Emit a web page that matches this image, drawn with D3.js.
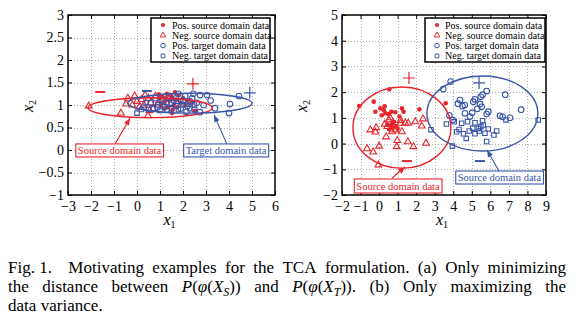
<!DOCTYPE html>
<html>
<head>
<meta charset="utf-8">
<title>TCA motivating examples</title>
<style>
body { margin: 0; background: #fff; }
text { font-family: "Liberation Serif", "Times New Roman", serif; fill: #000; }
.grid line { stroke: #b0b0b0; stroke-width: 1; stroke-dasharray: 1,2; shape-rendering: crispEdges; }
.axis path { display: none; }
.axis line { stroke: #000; }
.axis text { font-size: 14px; font-family: "Liberation Serif", serif; }
.legend text { font-size: 10px; }
.note text { font-size: 10.5px; }
.cap { font-size: 17px; }
</style>
</head>
<body>
<script src="https://cdn.jsdelivr.net/npm/d3@7"></script>
<script>
// ---- panel (a): only minimizing the distance between the two domains ----
var aXTicks = [-3, -2, -1, 0, 1, 2, 3, 4, 5, 6];
var aYTicks = [-1, -0.5, 0, 0.5, 1, 1.5, 2, 2.5, 3];
var aPosSource = [[1.0,1.15],[1.1,1.2],[1.2,1.08],[1.3,1.25],[1.4,1.1],[1.5,1.18],[1.6,1.0],[1.7,1.12],
  [1.8,1.22],[1.9,1.05],[2.0,1.15],[1.35,0.95],[1.55,0.9],[1.2,0.92],[1.45,1.22],[2.1,1.0],[2.2,1.1],
  [1.05,1.02],[1.65,1.28],[2.4,1.05],[2.52,0.87],[1.52,0.82],[1.75,0.95],[0.95,1.24],[1.25,1.15]];
var aNegSource = [[-2.1,0.98],[-0.7,0.82],[-0.48,1.02],[-0.4,1.15],[0.48,0.76],[-0.2,1.0],[0.0,1.08],
  [0.2,1.12],[0.3,1.0],[0.5,1.15],[0.6,1.05],[0.8,1.2],[0.9,1.02],[0.1,0.95],[0.7,0.92],[1.0,1.1],
  [-0.1,1.2],[0.35,1.22],[1.2,1.0],[0.55,0.88],[1.4,1.15]];
var aPosTarget = [[0.6,1.05],[0.9,0.95],[1.1,1.1],[1.3,0.9],[1.5,1.05],[1.7,1.15],[1.9,0.92],[2.0,1.1],
  [2.1,1.2],[2.2,0.98],[2.3,1.08],[2.4,1.15],[2.5,0.9],[2.6,1.05],[2.74,1.22],[2.74,0.84],[3.04,1.22],
  [3.39,0.93],[4.0,0.82],[4.04,1.02],[4.43,1.2],[2.9,1.0],[1.8,1.25],[2.15,0.85],[3.2,1.1],[1.4,1.2],
  [0.8,1.15],[2.45,1.25]];
var aNegTarget = [[0.0,0.82],[0.3,0.95],[0.5,0.9],[0.7,0.92],[0.9,1.0],[1.0,0.88],[1.2,0.96],[1.3,1.05],
  [1.5,0.92],[1.6,1.1],[1.7,0.98],[1.8,0.9],[2.0,1.0],[2.2,1.05],[2.3,0.92],[0.4,1.05],[1.1,1.12],
  [1.9,1.08],[2.5,1.0],[0.2,0.9]];
// ellipses: [cx, cy, rx, ry]
var aSourceEllipse = [0.57, 0.94, 2.7, 0.22];
var aTargetEllipse = [2.3, 1.04, 2.7, 0.22];
// class means: [x, y]
var aSourcePlus = [2.43, 1.47], aSourceMinus = [-1.6, 1.29];
var aTargetPlus = [4.9, 1.27], aTargetMinus = [0.43, 1.31];

// ---- panel (b): only maximizing the data variance ----
var bXTicks = [-2, -1, 0, 1, 2, 3, 4, 5, 6, 7, 8, 9];
var bYTicks = [-2, -1, 0, 1, 2, 3, 4, 5];
var bPosSource = [[-1.07,1.46],[-0.29,1.63],[0.55,2.11],[0.07,1.37],[-0.2,1.24],[0.25,1.3],[0.34,1.18],
  [0.66,1.24],[0.87,1.22],[0.52,1.15],[1.23,1.37],[1.32,1.24],[2.17,1.33],[3.59,1.57],[0.6,0.7],
  [0.75,0.62],[0.9,0.68],[0.7,0.78],[0.45,0.72],[1.0,0.58],[0.55,0.55],[0.8,0.85],[1.1,1.05],
  [0.3,1.45],[0.15,1.1]];
var bNegSource = [[-0.65,-0.2],[-0.32,-0.33],[0.0,-0.1],[-0.04,-0.83],[-0.47,0.53],[-0.2,0.45],
  [-0.16,0.62],[0.38,0.26],[0.52,0.92],[0.44,0.66],[0.7,0.46],[0.87,0.53],[0.98,0.12],[0.95,-0.12],
  [1.16,0.79],[1.23,0.46],[1.15,0.9],[1.41,0.8],[1.55,0.07],[1.57,0.79],[1.85,-0.12],[1.95,0.85],
  [2.3,0.68],[2.37,0.96],[2.53,0.01],[0.6,1.0],[0.3,0.75]];
var bPosTarget = [[3.46,2.12],[3.86,2.41],[4.36,1.69],[4.5,1.46],[4.62,1.5],[5.17,1.72],[5.08,1.63],
  [5.48,1.82],[5.58,1.9],[5.8,2.04],[5.44,1.54],[5.53,1.43],[5.02,1.2],[5.89,1.24],[5.8,1.15],
  [6.8,1.9],[7.66,1.32],[6.52,1.08],[6.66,1.04],[7.06,1.0],[4.63,1.18],[3.79,1.1],[3.97,0.92],
  [4.25,1.55],[4.9,1.05],[5.3,1.35]];
var bNegTarget = [[2.8,0.54],[3.63,0.76],[4.05,0.85],[4.45,0.79],[4.31,0.55],[4.18,0.46],[4.55,0.38],
  [4.77,0.85],[4.86,0.49],[5.17,0.81],[5.17,0.38],[5.4,0.49],[5.49,0.66],[5.58,0.89],[5.62,0.72],
  [5.35,0.59],[5.71,0.4],[5.89,0.57],[5.8,0.08],[6.19,0.33],[6.34,0.49],[6.84,0.92],[8.58,0.92],
  [3.95,-0.1],[5.05,0.6],[4.7,0.2]];
var bSourceEllipse = [1.23, 0.62, 2.64, 1.58];
var bTargetEllipse = [5.57, 1.17, 2.99, 1.46];
var bSourcePlus = [1.61, 2.55], bSourceMinus = [1.5, -0.68];
var bTargetPlus = [5.39, 2.36], bTargetMinus = [5.44, -0.68];

var legendLabels = ["Pos. source domain data", "Neg. source domain data",
                    "Pos. target domain data", "Neg. target domain data"];

var RED = "#e8252d", BLUE = "#3a56a8";

var svg = d3.select("body").append("svg")
    .attr("width", 584)
    .attr("height", 322);

var defs = svg.append("defs");
[["red", RED], ["blue", BLUE]].forEach(function(c) {
    defs.append("marker")
        .attr("id", "head-" + c[0])
        .attr("viewBox", "0 0 10 10")
        .attr("refX", 10).attr("refY", 5)
        .attr("markerWidth", 8).attr("markerHeight", 7)
        .attr("markerUnits", "userSpaceOnUse")
        .attr("orient", "auto")
      .append("path")
        .attr("d", "M0,1L10,5L0,9Z")
        .attr("fill", c[1]);
});

function fmt(d) { return String(d).replace("-", "\u2212"); }

var triangle = d3.symbol().type(d3.symbolTriangle).size(20);
var square = d3.symbol().type(d3.symbolSquare).size(20);

function drawPanel(p) {
    var x = d3.scaleLinear().domain(d3.extent(p.xTicks)).range([p.left, p.right]);
    var y = d3.scaleLinear().domain(d3.extent(p.yTicks)).range([p.bottom, p.top]);
    var g = svg.append("g");

    var grid = g.append("g").attr("class", "grid");
    grid.selectAll("line.v").data(p.xTicks.slice(1, -1)).join("line")
        .attr("class", "v")
        .attr("x1", function(d) { return Math.round(x(d)) + 0.5; })
        .attr("x2", function(d) { return Math.round(x(d)) + 0.5; })
        .attr("y1", p.top).attr("y2", p.bottom);
    grid.selectAll("line.h").data(p.yTicks.slice(1, -1)).join("line")
        .attr("class", "h")
        .attr("x1", p.left).attr("x2", p.right)
        .attr("y1", function(d) { return Math.round(y(d)) + 0.5; })
        .attr("y2", function(d) { return Math.round(y(d)) + 0.5; });

    // scatter series
    g.append("g").selectAll("circle").data(p.posSource).join("circle")
        .attr("cx", function(d) { return x(d[0]); })
        .attr("cy", function(d) { return y(d[1]); })
        .attr("r", 2.3)
        .attr("fill", RED);
    g.append("g").selectAll("path").data(p.negSource).join("path")
        .attr("d", triangle)
        .attr("transform", function(d) { return "translate(" + x(d[0]) + "," + y(d[1]) + ")"; })
        .attr("fill", "none").attr("stroke", RED).attr("stroke-width", 1.1);
    g.append("g").selectAll("circle").data(p.posTarget).join("circle")
        .attr("cx", function(d) { return x(d[0]); })
        .attr("cy", function(d) { return y(d[1]); })
        .attr("r", 2.8)
        .attr("fill", "none").attr("stroke", BLUE).attr("stroke-width", 1.1);
    g.append("g").selectAll("path").data(p.negTarget).join("path")
        .attr("d", square)
        .attr("transform", function(d) { return "translate(" + x(d[0]) + "," + y(d[1]) + ")"; })
        .attr("fill", "none").attr("stroke", BLUE).attr("stroke-width", 1.1);

    // domain ellipses
    [[p.sourceEllipse, RED], [p.targetEllipse, BLUE]].forEach(function(e) {
        var c = e[0];
        g.append("ellipse")
            .attr("cx", x(c[0])).attr("cy", y(c[1]))
            .attr("rx", x(c[0] + c[2]) - x(c[0]))
            .attr("ry", y(c[1]) - y(c[1] + c[3]))
            .attr("fill", "none").attr("stroke", e[1]).attr("stroke-width", 1.4);
    });

    // class means
    [[p.sourcePlus, RED], [p.targetPlus, BLUE]].forEach(function(m) {
        var cx = x(m[0][0]), cy = y(m[0][1]);
        g.append("path")
            .attr("d", "M" + (cx - 6) + "," + cy + "H" + (cx + 6) + "M" + cx + "," + (cy - 6) + "V" + (cy + 6))
            .attr("stroke", m[1]).attr("stroke-width", 1.2).attr("fill", "none");
    });
    [[p.sourceMinus, RED], [p.targetMinus, BLUE]].forEach(function(m) {
        var cx = x(m[0][0]), cy = y(m[0][1]);
        g.append("path")
            .attr("d", "M" + (cx - 5) + "," + cy + "H" + (cx + 5))
            .attr("stroke", m[1]).attr("stroke-width", 2).attr("fill", "none");
    });

    // frame and axes
    g.append("rect")
        .attr("x", p.left).attr("y", p.top)
        .attr("width", p.right - p.left).attr("height", p.bottom - p.top)
        .attr("fill", "none").attr("stroke", "#000").attr("stroke-width", 1.5);
    g.append("g").attr("class", "axis")
        .attr("transform", "translate(0," + p.bottom + ")")
        .call(d3.axisBottom(x).tickValues(p.xTicks).tickFormat(fmt)
            .tickSizeInner(-4).tickSizeOuter(0).tickPadding(6));
    g.append("g").attr("class", "axis")
        .attr("transform", "translate(" + p.left + ",0)")
        .call(d3.axisLeft(y).tickValues(p.yTicks).tickFormat(fmt)
            .tickSizeInner(-4).tickSizeOuter(0).tickPadding(4));
    g.append("g").attr("class", "axis")
        .attr("transform", "translate(0," + p.top + ")")
        .call(d3.axisTop(x).tickValues(p.xTicks).tickFormat("").tickSizeInner(-4).tickSizeOuter(0));
    g.append("g").attr("class", "axis")
        .attr("transform", "translate(" + p.right + ",0)")
        .call(d3.axisRight(y).tickValues(p.yTicks).tickFormat("").tickSizeInner(-4).tickSizeOuter(0));

    // axis titles
    var xl = g.append("text")
        .attr("x", (p.left + p.right) / 2 - 2).attr("y", p.bottom + 30)
        .attr("text-anchor", "middle").style("font-size", "16px");
    xl.append("tspan").style("font-style", "italic").text("x");
    xl.append("tspan").attr("dy", 3).style("font-size", "10px").text("1");
    var yl = g.append("text")
        .attr("transform", "translate(" + (p.left - 35) + "," + ((p.top + p.bottom) / 2 + 1) + ") rotate(-90)")
        .attr("text-anchor", "middle").style("font-size", "16px");
    yl.append("tspan").style("font-style", "italic").text("x");
    yl.append("tspan").attr("dy", 3).style("font-size", "10px").text("2");

    // legend
    var lg = g.append("g").attr("class", "legend")
        .attr("transform", "translate(" + p.legend[0] + "," + p.legend[1] + ")");
    lg.append("rect")
        .attr("width", p.legend[2]).attr("height", 44)
        .attr("fill", "#fff").attr("stroke", "#000").attr("stroke-width", 1.5);
    legendLabels.forEach(function(label, i) {
        var ly = 7 + i * 10.3;
        var mx = 12;
        if (i === 0) lg.append("circle").attr("cx", mx).attr("cy", ly).attr("r", 2).attr("fill", RED);
        if (i === 1) lg.append("path").attr("d", d3.symbol().type(d3.symbolTriangle).size(14))
            .attr("transform", "translate(" + mx + "," + ly + ")")
            .attr("fill", "none").attr("stroke", RED);
        if (i === 2) lg.append("circle").attr("cx", mx).attr("cy", ly).attr("r", 2.3)
            .attr("fill", "none").attr("stroke", BLUE);
        if (i === 3) lg.append("path").attr("d", d3.symbol().type(d3.symbolSquare).size(14))
            .attr("transform", "translate(" + mx + "," + ly + ")")
            .attr("fill", "none").attr("stroke", BLUE);
        lg.append("text").attr("x", p.legend[3]).attr("y", ly + 3.5).text(label);
    });

    // callout boxes with arrows
    p.notes.forEach(function(n) {
        var ng = g.append("g").attr("class", "note");
        ng.append("line")
            .attr("x1", x(n.from[0])).attr("y1", y(n.from[1]))
            .attr("x2", x(n.to[0])).attr("y2", y(n.to[1]))
            .attr("stroke", n.color).attr("stroke-width", 1.1)
            .attr("marker-end", "url(#head-" + (n.color === RED ? "red" : "blue") + ")");
        var rect = ng.append("rect");
        var t = ng.append("text")
            .attr("x", x(n.at[0])).attr("y", y(n.at[1]) + 3.5)
            .attr("text-anchor", "middle")
            .style("fill", n.color)
            .text(n.text);
        var bb = t.node().getBBox();
        rect.attr("x", bb.x - 2).attr("y", y(n.at[1]) - n.h / 2)
            .attr("width", bb.width + 4).attr("height", n.h)
            .attr("fill", "#fff").attr("stroke", n.color).attr("stroke-width", 1.1);
    });
}

drawPanel({
    left: 68, right: 275, top: 15, bottom: 195,
    xTicks: aXTicks, yTicks: aYTicks,
    posSource: aPosSource, negSource: aNegSource, posTarget: aPosTarget, negTarget: aNegTarget,
    sourceEllipse: aSourceEllipse, targetEllipse: aTargetEllipse,
    sourcePlus: aSourcePlus, sourceMinus: aSourceMinus,
    targetPlus: aTargetPlus, targetMinus: aTargetMinus,
    legend: [151, 18, 119, 21],
    notes: [
        { text: "Source domain data", color: RED, at: [-0.76, -0.01], h: 13, from: [-0.96, 0.13], to: [-0.3, 0.71] },
        { text: "Target domain data", color: BLUE, at: [3.87, -0.01], h: 13, from: [3.91, 0.13], to: [3.35, 0.78] }
    ]
});

drawPanel({
    left: 342, right: 546, top: 15, bottom: 195,
    xTicks: bXTicks, yTicks: bYTicks,
    posSource: bPosSource, negSource: bNegSource, posTarget: bPosTarget, negTarget: bNegTarget,
    sourceEllipse: bSourceEllipse, targetEllipse: bTargetEllipse,
    sourcePlus: bSourcePlus, sourceMinus: bSourceMinus,
    targetPlus: bTargetPlus, targetMinus: bTargetMinus,
    legend: [425, 18, 120, 20],
    notes: [
        { text: "Source domain data", color: RED, at: [1.02, -1.65], h: 14, from: [0.7, -1.34], to: [1.4, -0.91] },
        { text: "Source domain data", color: BLUE, at: [6.49, -1.32], h: 13, from: [6.46, -1.07], to: [5.82, -0.25] }
    ]
});

// ---- caption, justified like the printed page ----
var I = true;
var captionLines = [
    [[["Fig. 1."]], [["Motivating"]], [["examples"]], [["for"]], [["the"]], [["TCA"]], [["formulation."]],
     [["(a)"]], [["Only"]], [["minimizing"]]],
    [[["the"]], [["distance"]], [["between"]],
     [["P", I], ["("], ["\u03c6", I], ["("], ["X", I], ["S", I, "sub"], ["))"]],
     [["and"]],
     [["P", I], ["("], ["\u03c6", I], ["("], ["X", I], ["T", I, "sub"], ["))."]],
     [["(b)"]], [["Only"]], [["maximizing"]], [["the"]]],
    [[["data"]], [["variance."]]]
];
var capLeft = 8, capRight = 566, capTop = 273, capStep = 19;

captionLines.forEach(function(words, li) {
    var base = capTop + li * capStep;
    var nodes = words.map(function(word) {
        var t = svg.append("text").attr("class", "cap").attr("y", base);
        var shifted = false;
        word.forEach(function(part) {
            var s = t.append("tspan").text(part[0]);
            if (part[1]) s.style("font-style", "italic");
            if (part[2] === "sub") { s.attr("dy", 4).style("font-size", "12px"); shifted = true; }
            else if (shifted) { s.attr("dy", -4); shifted = false; }
        });
        return t;
    });
    var widths = nodes.map(function(n) { return n.node().getComputedTextLength(); });
    var extra = li === 0 ? 8 : 0;
    var last = li === captionLines.length - 1;
    var gap = last ? 4.5 : (capRight - capLeft - d3.sum(widths) - extra) / (words.length - 1);
    var pos = capLeft;
    nodes.forEach(function(n, i) {
        n.attr("x", pos);
        pos += widths[i] + gap + (li === 0 && i === 0 ? extra : 0);
    });
});
</script>
</body>
</html>
